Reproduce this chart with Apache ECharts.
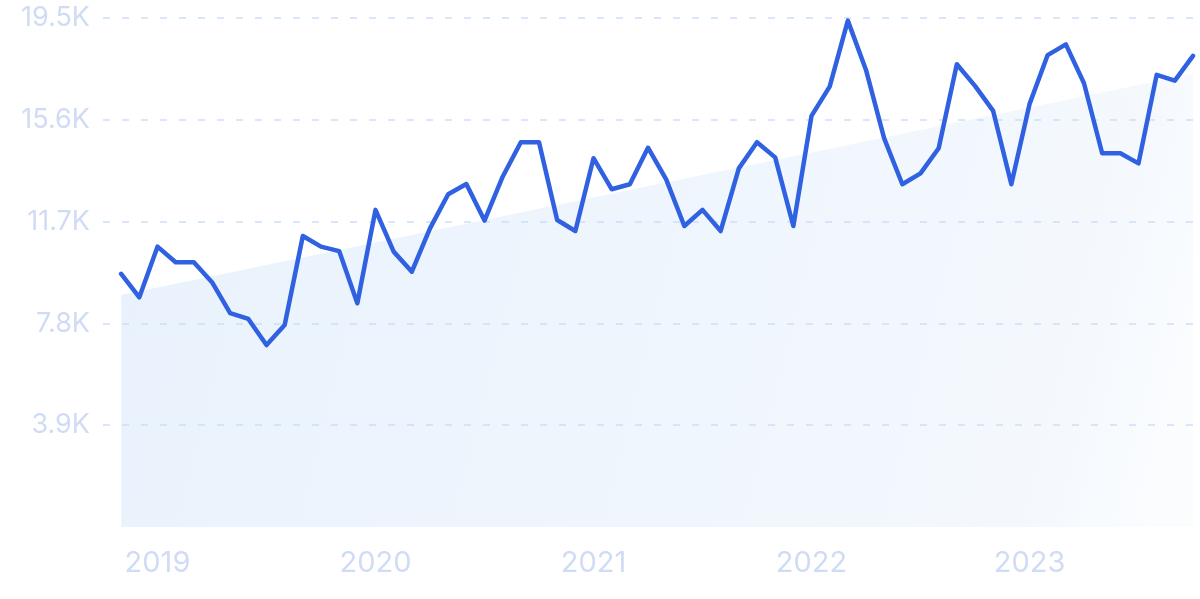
<!DOCTYPE html>
<html>
<head>
<meta charset="utf-8">
<script src="https://cdn.jsdelivr.net/npm/echarts@6/dist/echarts.min.js"></script>
<style>
  html, body { margin: 0; padding: 0; background: #ffffff; }
  #chart { width: 1200px; height: 599px; }
</style>
</head>
<body>
<div id="chart"></div>
<script>
// Axis months (the axis starts one month before the first observation)
var months = [
  '2018-10','2018-11','2018-12',
  '2019-01','2019-02','2019-03','2019-04','2019-05','2019-06','2019-07','2019-08','2019-09','2019-10','2019-11','2019-12',
  '2020-01','2020-02','2020-03','2020-04','2020-05','2020-06','2020-07','2020-08','2020-09','2020-10','2020-11','2020-12',
  '2021-01','2021-02','2021-03','2021-04','2021-05','2021-06','2021-07','2021-08','2021-09','2021-10','2021-11','2021-12',
  '2022-01','2022-02','2022-03','2022-04','2022-05','2022-06','2022-07','2022-08','2022-09','2022-10','2022-11','2022-12',
  '2023-01','2023-02','2023-03','2023-04','2023-05','2023-06','2023-07','2023-08','2023-09','2023-10'
];

// Monthly values, Nov 2018 .. Oct 2023
var values = [
  9700, 8800, 10740, 10140, 10140, 9380, 8190, 7970, 6970, 7740,
  11150, 10740, 10570, 8570, 12150, 10550, 9780, 11440, 12750, 13140,
  11740, 13420, 14740, 14740, 11760, 11340, 14130, 12940, 13130, 14530,
  13320, 11530, 12150, 11340, 13740, 14740, 14160, 11530, 15750, 16870,
  19400, 17510, 14890, 13130, 13550, 14510, 17730, 16900, 15940, 13130,
  16200, 18080, 18490, 17000, 14320, 14320, 13930, 17320, 17100, 18050
];

// Trend line end points
var trendMonths = ['2018-11', '2023-10'];
var trendValues = [8890, 17360];

// Y axis ticks
var yTicks = [0, 3900, 7800, 11700, 15600, 19500];

var seriesData = values.map(function (v, i) { return [months[i + 1], v]; });
var trendData = trendValues.map(function (v, i) { return [trendMonths[i], v]; });

var chart = echarts.init(document.getElementById('chart'), null, { renderer: 'canvas' });

var fontFamily = 'Inter, "Noto Sans", sans-serif';
var labelColor = '#d0dbf5';
var gridColor = '#cddffa';

chart.setOption({
  animation: false,
  backgroundColor: '#ffffff',
  grid: { left: 103, right: 7, top: 18, bottom: 72, containLabel: false },
  xAxis: {
    type: 'category',
    data: months,
    boundaryGap: false,
    axisLine: { show: false },
    axisTick: { show: false },
    splitLine: { show: false },
    axisLabel: {
      color: labelColor,
      fontFamily: fontFamily,
      fontSize: 29,
      margin: 22,
      interval: function (index, value) { return value.slice(5) === '01'; },
      formatter: function (value) { return value.slice(0, 4); }
    }
  },
  yAxis: {
    type: 'value',
    min: yTicks[0],
    max: yTicks[yTicks.length - 1],
    interval: yTicks[1] - yTicks[0],
    axisLine: { show: false },
    axisTick: { show: false },
    axisLabel: {
      color: labelColor,
      fontFamily: fontFamily,
      fontSize: 27,
      margin: 13,
      formatter: function (v) { return v === 0 ? '' : (v / 1000).toFixed(1) + 'K'; }
    },
    splitLine: {
      show: true,
      lineStyle: {
        color: ['rgba(0,0,0,0)', gridColor, gridColor, gridColor, gridColor, gridColor],
        type: [7, 12],
        width: 1.5
      }
    }
  },
  series: [
    {
      type: 'line',
      data: trendData,
      showSymbol: false,
      silent: true,
      z: 1,
      lineStyle: { width: 0, opacity: 0 },
      areaStyle: {
        origin: 'start',
        color: new echarts.graphic.LinearGradient(0, 0, 1, 0.6, [
          { offset: 0, color: 'rgba(200,222,248,0.58)' },
          { offset: 0.5, color: 'rgba(200,222,248,0.42)' },
          { offset: 0.9, color: 'rgba(200,222,248,0.28)' },
          { offset: 1, color: 'rgba(200,222,248,0.12)' }
        ])
      }
    },
    {
      type: 'line',
      data: seriesData,
      showSymbol: false,
      z: 3,
      lineStyle: { color: '#2f61e1', width: 4.5, join: 'round', cap: 'round' }
    }
  ]
});
</script>
</body>
</html>
